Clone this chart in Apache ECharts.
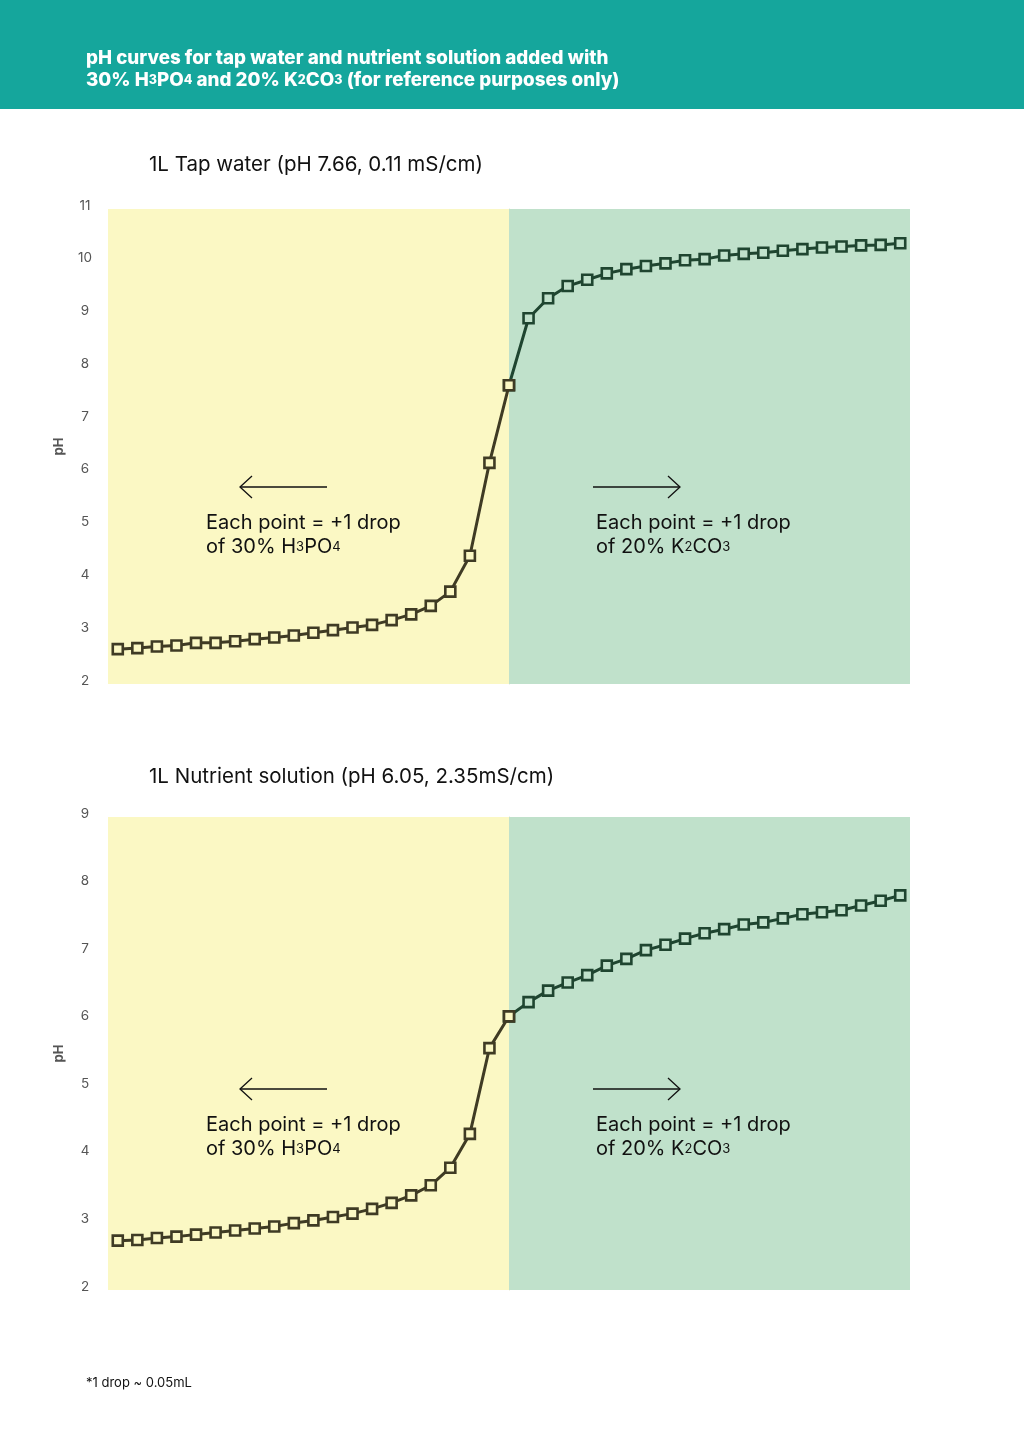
<!DOCTYPE html>
<html>
<head>
<meta charset="utf-8">
<script src="https://cdn.jsdelivr.net/npm/echarts@6/dist/echarts.min.js"></script>
<style>
html,body{margin:0;padding:0;background:#fff;}
#chart{width:1024px;height:1448px;}
</style>
</head>
<body>
<div id="chart"></div>
<script>
// drops added: negative = H3PO4 drops, positive = K2CO3 drops
var drops = [-20,-19,-18,-17,-16,-15,-14,-13,-12,-11,-10,-9,-8,-7,-6,-5,-4,-3,-2,-1,0,
             1,2,3,4,5,6,7,8,9,10,11,12,13,14,15,16,17,18,19,20];
var tapWaterPH = [2.66,2.68,2.71,2.73,2.78,2.78,2.81,2.85,2.88,2.92,2.97,3.02,3.07,3.12,3.21,3.32,3.48,3.75,4.43,6.19,7.66,
                  8.93,9.31,9.54,9.66,9.78,9.86,9.92,9.97,10.03,10.05,10.12,10.15,10.17,10.21,10.24,10.27,10.29,10.31,10.32,10.35];
var nutrientPH = [2.73,2.74,2.77,2.79,2.82,2.85,2.88,2.91,2.94,2.99,3.03,3.08,3.13,3.20,3.29,3.40,3.55,3.81,4.31,5.58,6.05,
                  6.26,6.43,6.55,6.66,6.80,6.90,7.03,7.11,7.20,7.28,7.34,7.41,7.44,7.50,7.56,7.59,7.62,7.69,7.76,7.84];
var tapYTicks = [2, 11];
var nutYTicks = [2, 9];
var chartTitles = ['1L Tap water (pH 7.66, 0.11 mS/cm)', '1L Nutrient solution (pH 6.05, 2.35mS/cm)'];

var FONT = 'Inter, "Noto Sans", sans-serif';
var YELLOW = '#fbf8c4', GREEN = '#c0e1cb';
var OLIVE = '#3f3b24', DGREEN = '#1f4530';

function pairs(vals, from, to) {
  var out = [];
  for (var i = from; i <= to; i++) out.push([drops[i], vals[i]]);
  return out;
}

var xMin = drops[0] - 0.5, xMax = drops[drops.length - 1] + 0.5;

function xAx(gi) {
  return { gridIndex: gi, type: 'value', min: xMin, max: xMax, show: false };
}
function yAx(gi, ticks) {
  return {
    gridIndex: gi, type: 'value', min: ticks[0], max: ticks[1], interval: 1,
    name: 'pH', nameLocation: 'middle', nameGap: 42, nameRotate: 90,
    nameTextStyle: { fontFamily: FONT, fontWeight: 'bold', fontSize: 13, color: '#555' },
    axisLine: { show: true, lineStyle: { color: '#e4e2c8', width: 1 } },
    axisTick: { show: false },
    splitLine: { show: false },
    axisLabel: { fontFamily: FONT, fontSize: 13.5, color: '#555', align: 'center', margin: 23,
                 verticalAlign: 'bottom', lineHeight: 7 }
  };
}
function lineSeries(gi, vals, from, to, color, fill, z, area) {
  var s = {
    type: 'line', xAxisIndex: gi, yAxisIndex: gi, z: z,
    data: pairs(vals, from, to),
    symbol: 'rect', symbolSize: 10, showSymbol: true,
    lineStyle: { color: color, width: 3 },
    itemStyle: { color: fill, borderColor: color, borderWidth: 2.6 },
    animation: false, silent: true
  };
  if (area) {
    s.markArea = {
      silent: true,
      data: [
        [{ xAxis: xMin, itemStyle: { color: YELLOW } }, { xAxis: 0 }],
        [{ xAxis: 0, itemStyle: { color: GREEN } }, { xAxis: xMax }]
      ]
    };
  }
  return s;
}

var txtRich = {
  a: { fontFamily: FONT, fontSize: 20, fill: '#111', lineHeight: 24 },
  s: { fontFamily: FONT, fontSize: 13, fill: '#111', lineHeight: 24 }
};
var hdRich = {
  a: { fontFamily: FONT, fontSize: 18.8, fontWeight: 800, fill: '#fff', lineHeight: 22 },
  s: { fontFamily: FONT, fontSize: 12.5, fontWeight: 800, fill: '#fff', lineHeight: 22 }
};

function annotations(arrowY, textY) {
  return [
    { type: 'line', z: 50, shape: { x1: 240, y1: arrowY, x2: 327, y2: arrowY }, style: { stroke: '#111', lineWidth: 1.3 } },
    { type: 'polyline', z: 50, shape: { points: [[252, arrowY - 11], [240, arrowY], [252, arrowY + 11]] }, style: { stroke: '#111', lineWidth: 1.3, fill: null } },
    { type: 'line', z: 50, shape: { x1: 593, y1: arrowY, x2: 680, y2: arrowY }, style: { stroke: '#111', lineWidth: 1.3 } },
    { type: 'polyline', z: 50, shape: { points: [[668, arrowY - 11], [680, arrowY], [668, arrowY + 11]] }, style: { stroke: '#111', lineWidth: 1.3, fill: null } },
    { type: 'text', z: 50, left: 206, top: textY, style: { text: '{a|Each point = +1 drop}\n{a|of 30% H}{s|3}{a|PO}{s|4}', rich: txtRich } },
    { type: 'text', z: 50, left: 596, top: textY, style: { text: '{a|Each point = +1 drop}\n{a|of 20% K}{s|2}{a|CO}{s|3}', rich: txtRich } }
  ];
}

var graphics = [
  { type: 'rect', shape: { x: 0, y: 0, width: 1024, height: 109 }, style: { fill: '#15a69c' }, z: -1 },
  { type: 'text', left: 86, top: 49, z: 50, style: { text: '{a|pH curves for tap water and nutrient solution added with}\n{a|30% H}{s|3}{a|PO}{s|4}{a| and 20% K}{s|2}{a|CO}{s|3}{a| (for reference purposes only)}', rich: hdRich } },
  { type: 'text', left: 149, top: 154, z: 50, style: { text: chartTitles[0], fontFamily: FONT, fontSize: 20.5, fill: '#111' } },
  { type: 'text', left: 149, top: 766, z: 50, style: { text: chartTitles[1], fontFamily: FONT, fontSize: 20.5, fill: '#111' } },
  { type: 'text', left: 86, top: 1377, z: 50, style: { text: '*1 drop ~ 0.05mL', fontFamily: FONT, fontSize: 13, fill: '#111' } }
].concat(annotations(487, 513)).concat(annotations(1089, 1115));

var option = {
  backgroundColor: '#fff',
  animation: false,
  grid: [
    { left: 108, right: 114, top: 209, height: 475 },
    { left: 108, right: 114, top: 817, height: 473 }
  ],
  xAxis: [xAx(0), xAx(1)],
  yAxis: [yAx(0, tapYTicks), yAx(1, nutYTicks)],
  series: [
    lineSeries(0, tapWaterPH, 20, 40, DGREEN, GREEN, 3, true),
    lineSeries(0, tapWaterPH, 0, 20, OLIVE, YELLOW, 4, false),
    lineSeries(1, nutrientPH, 20, 40, DGREEN, GREEN, 3, true),
    lineSeries(1, nutrientPH, 0, 20, OLIVE, YELLOW, 4, false)
  ],
  graphic: graphics
};

var chart = echarts.init(document.getElementById('chart'), null, { renderer: 'canvas' });
chart.setOption(option);
</script>
</body>
</html>
